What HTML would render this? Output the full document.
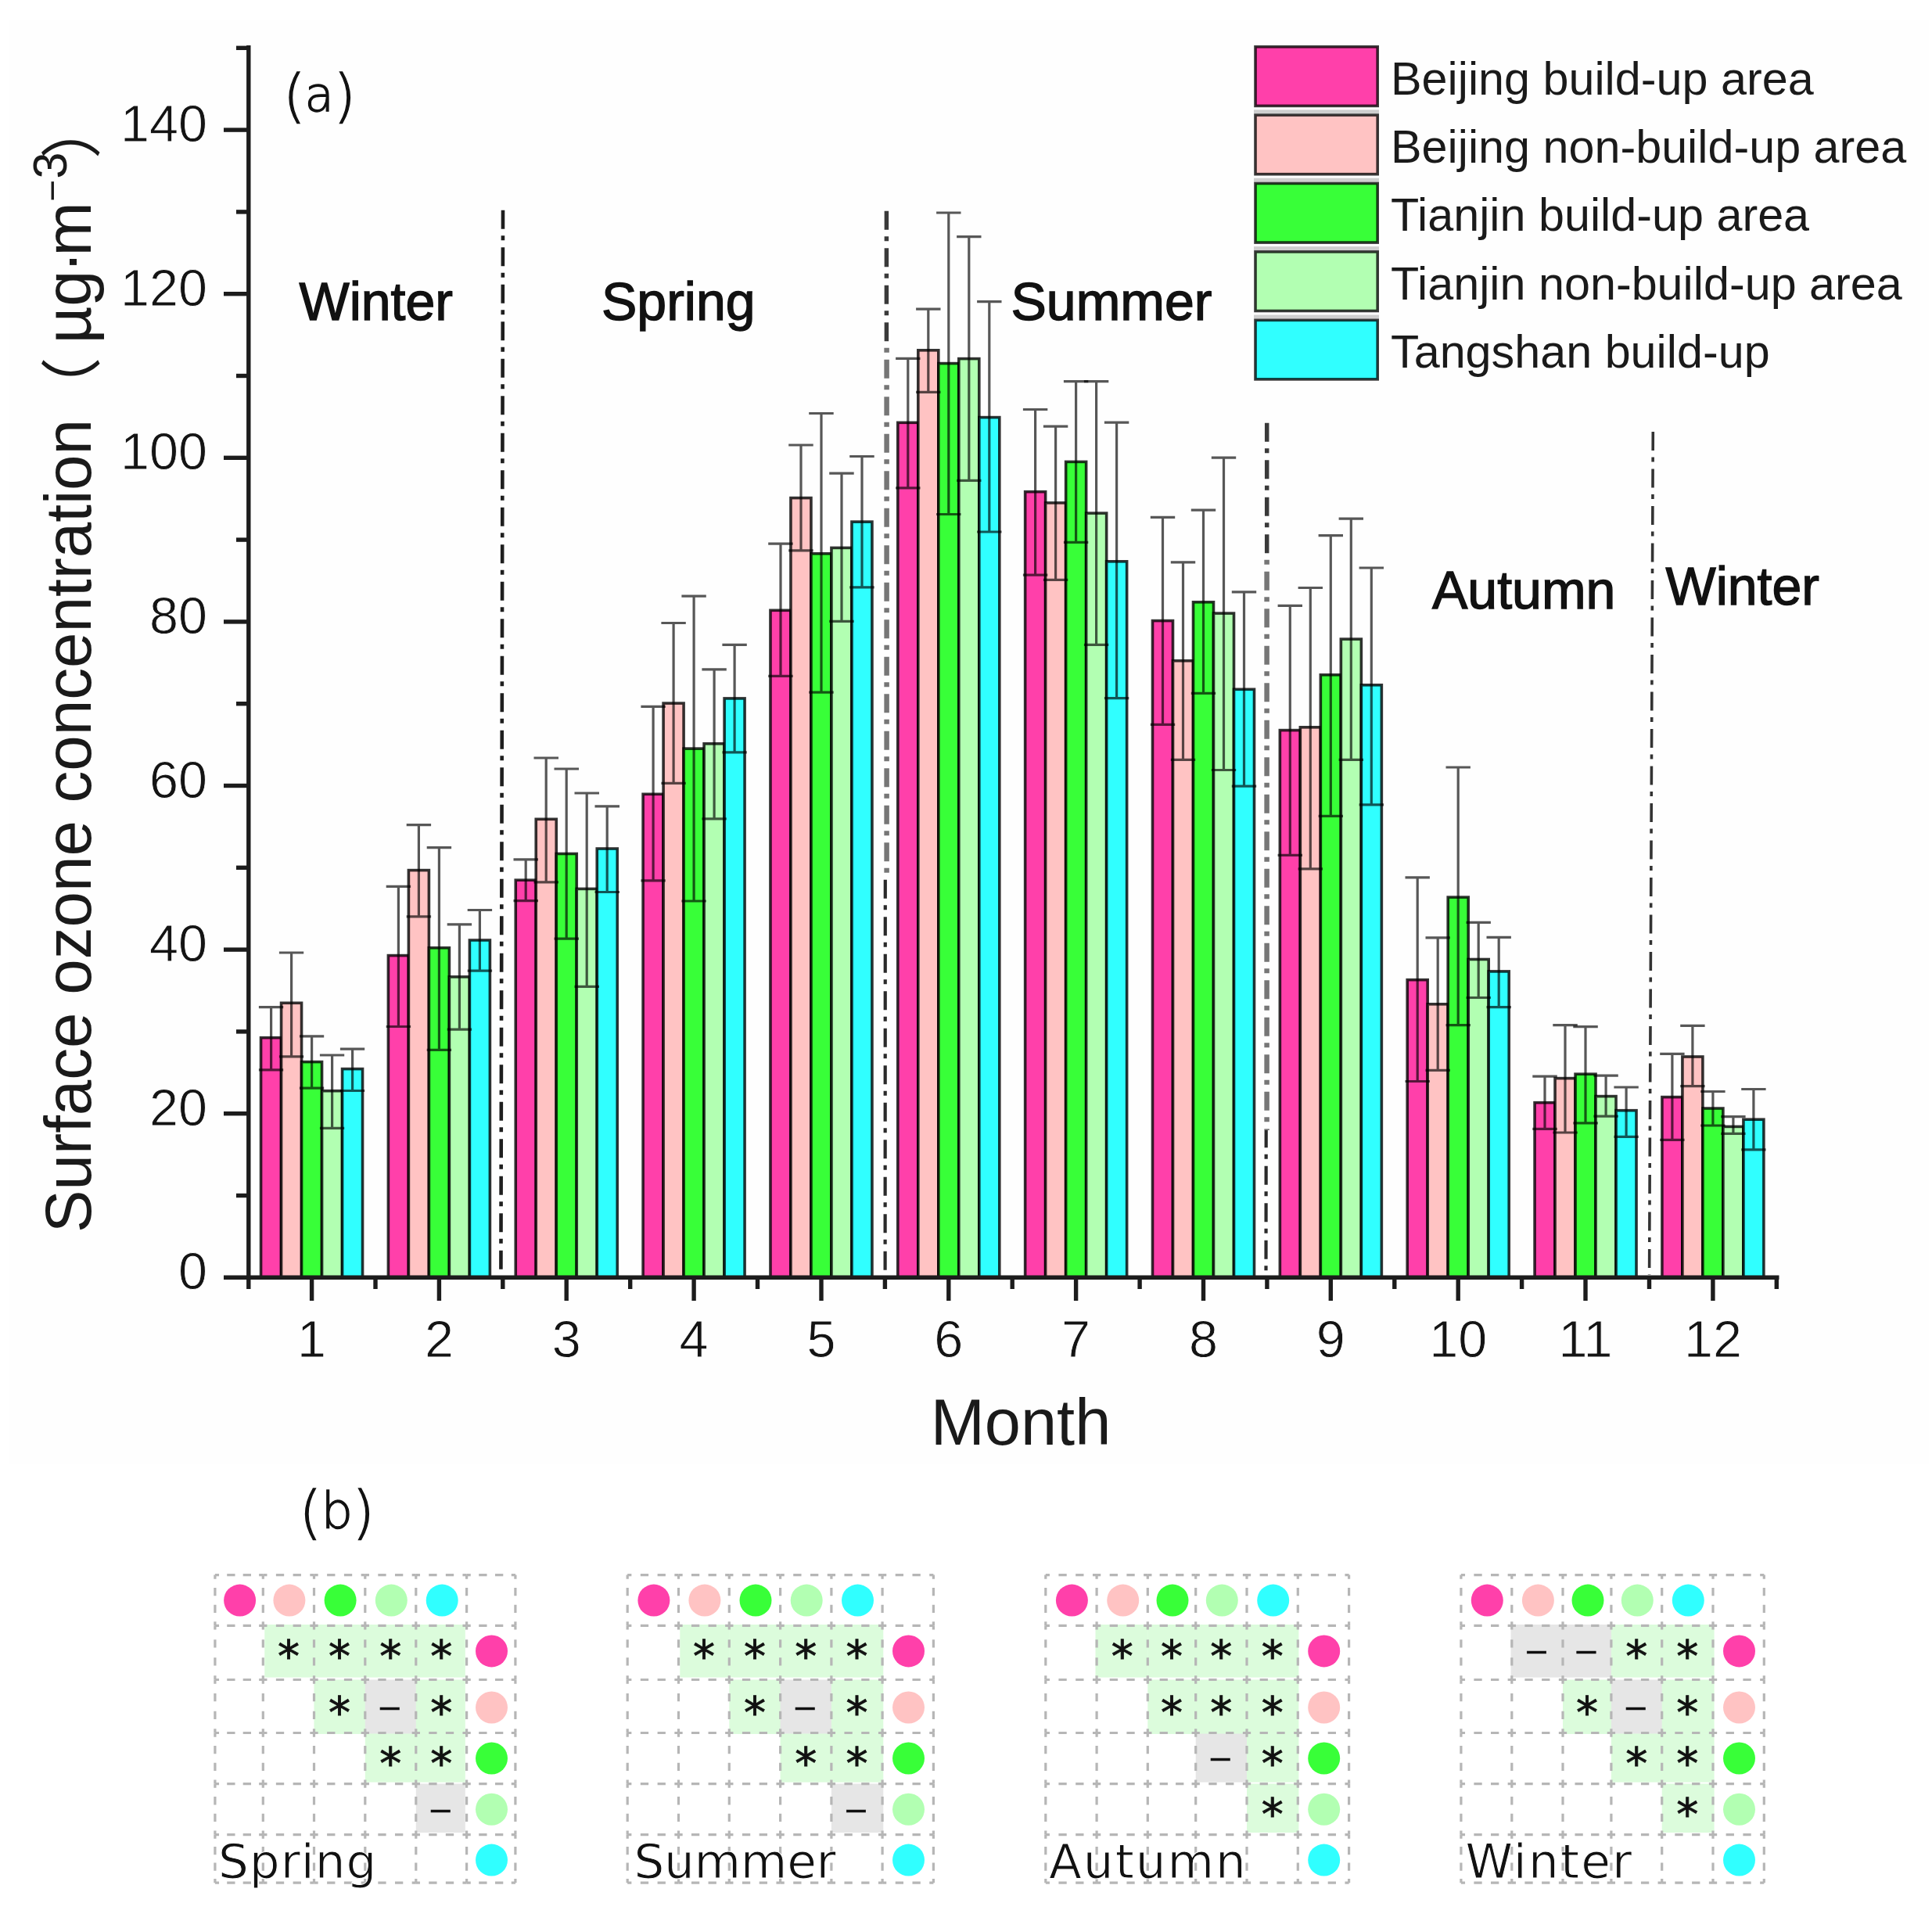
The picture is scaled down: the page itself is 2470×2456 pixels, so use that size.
<!DOCTYPE html>
<html lang="en"><head><meta charset="utf-8"><title>Surface ozone concentration by month</title>
<style>html,body{margin:0;padding:0;background:#fff}svg{display:block;filter:blur(0.7px)}</style></head>
<body>
<svg width="2470" height="2456" viewBox="0 0 2470 2456">
<rect width="2470" height="2456" fill="#ffffff"/>
<rect x="12" y="26" width="2454" height="1846" fill="#fefefe"/>
<line x1="643" y1="268.7" x2="640.4" y2="1630" stroke="#1e1e1e" stroke-width="4.6" stroke-dasharray="24 8.5 6 9" stroke-dashoffset="0"/>
<line x1="1133.4" y1="269.8" x2="1133.4" y2="442" stroke="#3a3a3a" stroke-width="5.5" stroke-dasharray="24 8.5 6 9" stroke-dashoffset="0"/>
<line x1="1133.6" y1="442" x2="1133.6" y2="1120" stroke="#767676" stroke-width="6.5" stroke-dasharray="24 8.5 6 9" stroke-dashoffset="29.69999999999999"/>
<line x1="1131.8" y1="1120" x2="1131.6" y2="1630" stroke="#2a2a2a" stroke-width="4.2" stroke-dasharray="24 8.5 6 9" stroke-dashoffset="42.700000000000045"/>
<line x1="1619.7" y1="540.8" x2="1619.7" y2="711" stroke="#3a3a3a" stroke-width="5.5" stroke-dasharray="24 8.5 6 9" stroke-dashoffset="0"/>
<line x1="1619.6" y1="711" x2="1619.6" y2="1445" stroke="#767676" stroke-width="6.5" stroke-dasharray="24 8.5 6 9" stroke-dashoffset="27.700000000000045"/>
<line x1="1618.7" y1="1445" x2="1618.5" y2="1630" stroke="#2a2a2a" stroke-width="4.2" stroke-dasharray="24 8.5 6 9" stroke-dashoffset="1.7000000000000455"/>
<line x1="2113.3" y1="551.9" x2="2108.6" y2="1630" stroke="#333" stroke-width="3.6" stroke-dasharray="24 8.5 6 9" stroke-dashoffset="0"/>
<g stroke="#000" stroke-opacity="0.8" stroke-width="3.6">
<rect x="333.55" y="1326.7" width="26.0" height="306.6" fill="#FF40AA"/>
<rect x="359.55" y="1282.3" width="26.0" height="351.0" fill="#FFC3C3"/>
<rect x="385.55" y="1357.6" width="26.0" height="275.7" fill="#38FF38"/>
<rect x="411.55" y="1394.7" width="26.0" height="238.6" fill="#B2FFB2"/>
<rect x="437.55" y="1366.6" width="26.0" height="266.7" fill="#30FFFF"/>
<rect x="496.40" y="1221.6" width="26.0" height="411.7" fill="#FF40AA"/>
<rect x="522.40" y="1112.6" width="26.0" height="520.7" fill="#FFC3C3"/>
<rect x="548.40" y="1211.8" width="26.0" height="421.5" fill="#38FF38"/>
<rect x="574.40" y="1248.9" width="26.0" height="384.4" fill="#B2FFB2"/>
<rect x="600.40" y="1202.0" width="26.0" height="431.3" fill="#30FFFF"/>
<rect x="659.25" y="1125.2" width="26.0" height="508.1" fill="#FF40AA"/>
<rect x="685.25" y="1047.3" width="26.0" height="586.0" fill="#FFC3C3"/>
<rect x="711.25" y="1091.5" width="26.0" height="541.8" fill="#38FF38"/>
<rect x="737.25" y="1136.4" width="26.0" height="496.9" fill="#B2FFB2"/>
<rect x="763.25" y="1085.0" width="26.0" height="548.3" fill="#30FFFF"/>
<rect x="822.10" y="1015.3" width="26.0" height="618.0" fill="#FF40AA"/>
<rect x="848.10" y="899.1" width="26.0" height="734.2" fill="#FFC3C3"/>
<rect x="874.10" y="957.1" width="26.0" height="676.2" fill="#38FF38"/>
<rect x="900.10" y="950.8" width="26.0" height="682.5" fill="#B2FFB2"/>
<rect x="926.10" y="892.9" width="26.0" height="740.4" fill="#30FFFF"/>
<rect x="984.95" y="780.3" width="26.0" height="853.0" fill="#FF40AA"/>
<rect x="1010.95" y="636.6" width="26.0" height="996.7" fill="#FFC3C3"/>
<rect x="1036.95" y="707.8" width="26.0" height="925.5" fill="#38FF38"/>
<rect x="1062.95" y="700.4" width="26.0" height="932.9" fill="#B2FFB2"/>
<rect x="1088.95" y="667.1" width="26.0" height="966.2" fill="#30FFFF"/>
<rect x="1147.80" y="540.3" width="26.0" height="1093.0" fill="#FF40AA"/>
<rect x="1173.80" y="447.8" width="26.0" height="1185.5" fill="#FFC3C3"/>
<rect x="1199.80" y="464.6" width="26.0" height="1168.7" fill="#38FF38"/>
<rect x="1225.80" y="458.6" width="26.0" height="1174.7" fill="#B2FFB2"/>
<rect x="1251.80" y="533.6" width="26.0" height="1099.7" fill="#30FFFF"/>
<rect x="1310.65" y="628.7" width="26.0" height="1004.6" fill="#FF40AA"/>
<rect x="1336.65" y="642.9" width="26.0" height="990.4" fill="#FFC3C3"/>
<rect x="1362.65" y="590.4" width="26.0" height="1042.9" fill="#38FF38"/>
<rect x="1388.65" y="656.1" width="26.0" height="977.2" fill="#B2FFB2"/>
<rect x="1414.65" y="717.8" width="26.0" height="915.5" fill="#30FFFF"/>
<rect x="1473.50" y="793.6" width="26.0" height="839.7" fill="#FF40AA"/>
<rect x="1499.50" y="844.8" width="26.0" height="788.5" fill="#FFC3C3"/>
<rect x="1525.50" y="769.8" width="26.0" height="863.5" fill="#38FF38"/>
<rect x="1551.50" y="784.1" width="26.0" height="849.2" fill="#B2FFB2"/>
<rect x="1577.50" y="881.3" width="26.0" height="752.0" fill="#30FFFF"/>
<rect x="1636.35" y="933.6" width="26.0" height="699.7" fill="#FF40AA"/>
<rect x="1662.35" y="929.8" width="26.0" height="703.5" fill="#FFC3C3"/>
<rect x="1688.35" y="862.8" width="26.0" height="770.5" fill="#38FF38"/>
<rect x="1714.35" y="817.1" width="26.0" height="816.2" fill="#B2FFB2"/>
<rect x="1740.35" y="875.8" width="26.0" height="757.5" fill="#30FFFF"/>
<rect x="1799.20" y="1252.7" width="26.0" height="380.6" fill="#FF40AA"/>
<rect x="1825.20" y="1283.8" width="26.0" height="349.5" fill="#FFC3C3"/>
<rect x="1851.20" y="1147.1" width="26.0" height="486.2" fill="#38FF38"/>
<rect x="1877.20" y="1226.5" width="26.0" height="406.8" fill="#B2FFB2"/>
<rect x="1903.20" y="1241.9" width="26.0" height="391.4" fill="#30FFFF"/>
<rect x="1962.05" y="1409.7" width="26.0" height="223.6" fill="#FF40AA"/>
<rect x="1988.05" y="1378.6" width="26.0" height="254.7" fill="#FFC3C3"/>
<rect x="2014.05" y="1373.2" width="26.0" height="260.1" fill="#38FF38"/>
<rect x="2040.05" y="1401.6" width="26.0" height="231.7" fill="#B2FFB2"/>
<rect x="2066.05" y="1419.7" width="26.0" height="213.6" fill="#30FFFF"/>
<rect x="2124.90" y="1402.6" width="26.0" height="230.7" fill="#FF40AA"/>
<rect x="2150.90" y="1351.0" width="26.0" height="282.3" fill="#FFC3C3"/>
<rect x="2176.90" y="1417.0" width="26.0" height="216.3" fill="#38FF38"/>
<rect x="2202.90" y="1440.4" width="26.0" height="192.9" fill="#B2FFB2"/>
<rect x="2228.90" y="1431.2" width="26.0" height="202.1" fill="#30FFFF"/>
</g>
<g stroke="#000" stroke-opacity="0.66" stroke-width="3.2" fill="none">
<path d="M330.9 1287.7H362.2M346.6 1287.7V1367.8M330.9 1367.8H362.2"/>
<path d="M356.9 1218.0H388.2M372.6 1218.0V1350.9M356.9 1350.9H388.2"/>
<path d="M382.9 1324.8H414.2M398.6 1324.8V1391.1M382.9 1391.1H414.2"/>
<path d="M408.9 1349.0H440.2M424.6 1349.0V1442.3M408.9 1442.3H440.2"/>
<path d="M434.9 1341.1H466.2M450.6 1341.1V1394.5M434.9 1394.5H466.2"/>
<path d="M493.7 1133.4H525.1M509.4 1133.4V1312.5M493.7 1312.5H525.1"/>
<path d="M519.7 1054.7H551.1M535.4 1054.7V1171.9M519.7 1171.9H551.1"/>
<path d="M545.7 1083.7H577.1M561.4 1083.7V1342.3M545.7 1342.3H577.1"/>
<path d="M571.7 1181.8H603.1M587.4 1181.8V1316.2M571.7 1316.2H603.1"/>
<path d="M597.7 1163.5H629.1M613.4 1163.5V1241.1M597.7 1241.1H629.1"/>
<path d="M656.5 1098.9H688.0M672.2 1098.9V1151.7M656.5 1151.7H688.0"/>
<path d="M682.5 969.0H714.0M698.2 969.0V1127.8M682.5 1127.8H714.0"/>
<path d="M708.5 983.0H740.0M724.2 983.0V1200.1M708.5 1200.1H740.0"/>
<path d="M734.5 1014.0H766.0M750.2 1014.0V1261.4M734.5 1261.4H766.0"/>
<path d="M760.5 1030.8H792.0M776.2 1030.8V1140.5M760.5 1140.5H792.0"/>
<path d="M819.4 903.4H850.8M835.1 903.4V1125.8M819.4 1125.8H850.8"/>
<path d="M845.4 796.5H876.8M861.1 796.5V1001.4M845.4 1001.4H876.8"/>
<path d="M871.4 762.2H902.8M887.1 762.2V1152.0M871.4 1152.0H902.8"/>
<path d="M897.4 855.9H928.8M913.1 855.9V1046.8M897.4 1046.8H928.8"/>
<path d="M923.4 824.4H954.8M939.1 824.4V961.9M923.4 961.9H954.8"/>
<path d="M982.2 695.2H1013.7M998.0 695.2V864.3M982.2 864.3H1013.7"/>
<path d="M1008.2 569.0H1039.7M1024.0 569.0V703.9M1008.2 703.9H1039.7"/>
<path d="M1034.2 528.5H1065.7M1050.0 528.5V885.1M1034.2 885.1H1065.7"/>
<path d="M1060.2 605.2H1091.7M1076.0 605.2V794.4M1060.2 794.4H1091.7"/>
<path d="M1086.2 583.5H1117.7M1102.0 583.5V750.9M1086.2 750.9H1117.7"/>
<path d="M1145.1 458.4H1176.5M1160.8 458.4V623.8M1145.1 623.8H1176.5"/>
<path d="M1171.1 395.2H1202.5M1186.8 395.2V501.4M1171.1 501.4H1202.5"/>
<path d="M1197.1 272.0H1228.5M1212.8 272.0V657.5M1197.1 657.5H1228.5"/>
<path d="M1223.1 302.7H1254.5M1238.8 302.7V614.3M1223.1 614.3H1254.5"/>
<path d="M1249.1 385.7H1280.5M1264.8 385.7V680.0M1249.1 680.0H1280.5"/>
<path d="M1307.9 523.5H1339.3M1323.6 523.5V735.1M1307.9 735.1H1339.3"/>
<path d="M1333.9 545.2H1365.3M1349.6 545.2V741.4M1333.9 741.4H1365.3"/>
<path d="M1359.9 487.6H1391.3M1375.6 487.6V693.4M1359.9 693.4H1391.3"/>
<path d="M1385.9 487.6H1417.3M1401.6 487.6V824.3M1385.9 824.3H1417.3"/>
<path d="M1411.9 540.2H1443.3M1427.6 540.2V892.6M1411.9 892.6H1443.3"/>
<path d="M1470.8 661.4H1502.2M1486.5 661.4V926.3M1470.8 926.3H1502.2"/>
<path d="M1496.8 718.9H1528.2M1512.5 718.9V971.3M1496.8 971.3H1528.2"/>
<path d="M1522.8 652.2H1554.2M1538.5 652.2V886.3M1522.8 886.3H1554.2"/>
<path d="M1548.8 585.2H1580.2M1564.5 585.2V984.5M1548.8 984.5H1580.2"/>
<path d="M1574.8 756.9H1606.2M1590.5 756.9V1005.1M1574.8 1005.1H1606.2"/>
<path d="M1633.6 774.4H1665.0M1649.3 774.4V1093.3M1633.6 1093.3H1665.0"/>
<path d="M1659.6 751.5H1691.0M1675.3 751.5V1110.8M1659.6 1110.8H1691.0"/>
<path d="M1685.6 684.7H1717.0M1701.3 684.7V1043.3M1685.6 1043.3H1717.0"/>
<path d="M1711.6 663.2H1743.0M1727.3 663.2V971.3M1711.6 971.3H1743.0"/>
<path d="M1737.6 726.0H1769.0M1753.3 726.0V1028.8M1737.6 1028.8H1769.0"/>
<path d="M1796.5 1121.8H1827.9M1812.2 1121.8V1382.5M1796.5 1382.5H1827.9"/>
<path d="M1822.5 1198.9H1853.9M1838.2 1198.9V1368.4M1822.5 1368.4H1853.9"/>
<path d="M1848.5 981.0H1879.9M1864.2 981.0V1310.7M1848.5 1310.7H1879.9"/>
<path d="M1874.5 1179.4H1905.9M1890.2 1179.4V1275.5M1874.5 1275.5H1905.9"/>
<path d="M1900.5 1198.4H1931.9M1916.2 1198.4V1287.7M1900.5 1287.7H1931.9"/>
<path d="M1959.3 1376.2H1990.8M1975.0 1376.2V1443.4M1959.3 1443.4H1990.8"/>
<path d="M1985.3 1310.7H2016.8M2001.0 1310.7V1448.0M1985.3 1448.0H2016.8"/>
<path d="M2011.3 1312.6H2042.8M2027.0 1312.6V1435.8M2011.3 1435.8H2042.8"/>
<path d="M2037.4 1375.1H2068.8M2053.1 1375.1V1427.1M2037.4 1427.1H2068.8"/>
<path d="M2063.4 1390.0H2094.8M2079.1 1390.0V1453.3M2063.4 1453.3H2094.8"/>
<path d="M2122.2 1347.4H2153.6M2137.9 1347.4V1457.3M2122.2 1457.3H2153.6"/>
<path d="M2148.2 1311.4H2179.6M2163.9 1311.4V1388.6M2148.2 1388.6H2179.6"/>
<path d="M2174.2 1395.5H2205.6M2189.9 1395.5V1439.0M2174.2 1439.0H2205.6"/>
<path d="M2200.2 1427.6H2231.6M2215.9 1427.6V1449.3M2200.2 1449.3H2231.6"/>
<path d="M2226.2 1392.5H2257.6M2241.9 1392.5V1469.9M2226.2 1469.9H2257.6"/>
</g>
<g stroke="#1c1c1c" stroke-width="5.4" fill="none">
<path d="M317.8 58V1648"/>
<path d="M286 1633.3H2274.5"/>
<path d="M302 1528.5H318"/>
<path d="M286 1423.7H318"/>
<path d="M302 1318.9H318"/>
<path d="M286 1214.1H318"/>
<path d="M302 1109.3H318"/>
<path d="M286 1004.5H318"/>
<path d="M302 899.7H318"/>
<path d="M286 794.9H318"/>
<path d="M302 690.1H318"/>
<path d="M286 585.3H318"/>
<path d="M302 480.5H318"/>
<path d="M286 375.7H318"/>
<path d="M302 270.9H318"/>
<path d="M286 166.1H318"/>
<path d="M302 61.3H318"/>
<path d="M398.6 1633.3V1663"/>
<path d="M480.0 1633.3V1648"/>
<path d="M561.4 1633.3V1663"/>
<path d="M642.8 1633.3V1648"/>
<path d="M724.2 1633.3V1663"/>
<path d="M805.7 1633.3V1648"/>
<path d="M887.1 1633.3V1663"/>
<path d="M968.5 1633.3V1648"/>
<path d="M1050.0 1633.3V1663"/>
<path d="M1131.4 1633.3V1648"/>
<path d="M1212.8 1633.3V1663"/>
<path d="M1294.2 1633.3V1648"/>
<path d="M1375.6 1633.3V1663"/>
<path d="M1457.1 1633.3V1648"/>
<path d="M1538.5 1633.3V1663"/>
<path d="M1619.9 1633.3V1648"/>
<path d="M1701.3 1633.3V1663"/>
<path d="M1782.8 1633.3V1648"/>
<path d="M1864.2 1633.3V1663"/>
<path d="M1945.6 1633.3V1648"/>
<path d="M2027.0 1633.3V1663"/>
<path d="M2108.5 1633.3V1648"/>
<path d="M2189.9 1633.3V1663"/>
<path d="M2271.3 1633.3V1648"/>
</g>
<g style="font-family:'Liberation Sans',Arial,sans-serif;font-size:66.5px" fill="#141414" stroke="#fff" stroke-width="0.8">
<text x="265" y="1648.3" text-anchor="end">0</text>
<text x="265" y="1438.7" text-anchor="end">20</text>
<text x="265" y="1229.1" text-anchor="end">40</text>
<text x="265" y="1019.5" text-anchor="end">60</text>
<text x="265" y="809.9" text-anchor="end">80</text>
<text x="265" y="600.3" text-anchor="end">100</text>
<text x="265" y="390.7" text-anchor="end">120</text>
<text x="265" y="181.1" text-anchor="end">140</text>
<text x="398.6" y="1734.5" text-anchor="middle">1</text>
<text x="561.4" y="1734.5" text-anchor="middle">2</text>
<text x="724.2" y="1734.5" text-anchor="middle">3</text>
<text x="887.1" y="1734.5" text-anchor="middle">4</text>
<text x="1050.0" y="1734.5" text-anchor="middle">5</text>
<text x="1212.8" y="1734.5" text-anchor="middle">6</text>
<text x="1375.6" y="1734.5" text-anchor="middle">7</text>
<text x="1538.5" y="1734.5" text-anchor="middle">8</text>
<text x="1701.3" y="1734.5" text-anchor="middle">9</text>
<text x="1864.2" y="1734.5" text-anchor="middle">10</text>
<text x="2027.0" y="1734.5" text-anchor="middle">11</text>
<text x="2189.9" y="1734.5" text-anchor="middle">12</text>
</g>
<text x="1305" y="1846.5" text-anchor="middle" style="font-family:'Liberation Sans',Arial,sans-serif;font-size:83px" fill="#1a1a1a">Month</text>
<g transform="translate(115.5 0) rotate(-90)" style="font-family:'Liberation Sans','Noto Sans CJK SC',sans-serif;font-size:83px" fill="#1a1a1a">
<text x="-1576" y="0" textLength="1040" lengthAdjust="spacingAndGlyphs">Surface ozone concentration</text>
<text x="-535" y="4.4" style="font-size:78.3px">（</text>
<text x="-439.5" y="0">µg</text>
<text x="-335" y="0" text-anchor="middle">·</text>
<text x="-327.5" y="0">m</text>
<text x="-258" y="-33" style="font-size:48px">−</text>
<text x="-228.5" y="-30.8" style="font-size:61px">3</text>
<text x="-203" y="4.4" style="font-size:78.3px">）</text>
</g>
<g style="font-family:'Liberation Sans',Arial,sans-serif;font-size:68px" fill="#111" stroke="#111" stroke-width="1.4">
<text x="382.5" y="408.6">Winter</text>
<text x="769" y="408.6">Spring</text>
<text x="1292.5" y="409">Summer</text>
<text x="1831" y="777.6">Autumn</text>
<text x="2129.5" y="772.6">Winter</text>
</g>
<g style="font-family:'DejaVu Sans','Liberation Sans',sans-serif;font-weight:200" fill="#111" stroke="#111" stroke-width="1.3">
<text x="362" y="147.9" style="font-size:73px">(</text>
<text x="389.5" y="142.3" style="font-size:61px">a</text>
<text x="426.5" y="147.9" style="font-size:73px">)</text>
</g>
<g style="font-family:'DejaVu Sans','Liberation Sans',sans-serif;font-weight:200" fill="#111" stroke="#111" stroke-width="1.3">
<text x="382.5" y="1959.1" style="font-size:73px">(</text>
<text x="410.5" y="1953.5" style="font-size:64px">b</text>
<text x="450.5" y="1959.1" style="font-size:73px">)</text>
</g>
<rect x="1605" y="59.8" width="156.2" height="75.6" fill="#FF40AA" stroke="#000" stroke-opacity="0.78" stroke-width="3.6"/>
<text x="1778" y="120.5" style="font-family:'Liberation Sans',Arial,sans-serif;font-size:59.3px" fill="#1a1a1a">Beijing build-up area</text>
<rect x="1603" y="140.3" width="160" height="5" fill="#cfcfcf"/>
<rect x="1605" y="147.1" width="156.2" height="75.6" fill="#FFC3C3" stroke="#000" stroke-opacity="0.78" stroke-width="3.6"/>
<text x="1778" y="207.8" style="font-family:'Liberation Sans',Arial,sans-serif;font-size:59.3px" fill="#1a1a1a">Beijing non-build-up area</text>
<rect x="1603" y="227.7" width="160" height="5" fill="#cfcfcf"/>
<rect x="1605" y="234.5" width="156.2" height="75.6" fill="#38FF38" stroke="#000" stroke-opacity="0.78" stroke-width="3.6"/>
<text x="1778" y="295.2" style="font-family:'Liberation Sans',Arial,sans-serif;font-size:59.3px" fill="#1a1a1a">Tianjin build-up area</text>
<rect x="1603" y="315.1" width="160" height="5" fill="#cfcfcf"/>
<rect x="1605" y="321.9" width="156.2" height="75.6" fill="#B2FFB2" stroke="#000" stroke-opacity="0.78" stroke-width="3.6"/>
<text x="1778" y="382.6" style="font-family:'Liberation Sans',Arial,sans-serif;font-size:59.3px" fill="#1a1a1a">Tianjin non-build-up area</text>
<rect x="1603" y="402.5" width="160" height="5" fill="#cfcfcf"/>
<rect x="1605" y="409.3" width="156.2" height="75.6" fill="#30FFFF" stroke="#000" stroke-opacity="0.78" stroke-width="3.6"/>
<text x="1778" y="470.0" style="font-family:'Liberation Sans',Arial,sans-serif;font-size:59.3px" fill="#1a1a1a">Tangshan build-up</text>
<rect x="338.3" y="2077.0" width="63.6" height="67.6" fill="#DCFCDC"/>
<rect x="401.5" y="2077.0" width="65.7" height="67.6" fill="#DCFCDC"/>
<rect x="466.8" y="2077.0" width="65.4" height="67.6" fill="#DCFCDC"/>
<rect x="531.8" y="2077.0" width="63.0" height="67.6" fill="#DCFCDC"/>
<rect x="401.5" y="2147.5" width="65.7" height="69.4" fill="#DCFCDC"/>
<rect x="466.8" y="2147.5" width="65.4" height="69.4" fill="#E6E6E6"/>
<rect x="531.8" y="2147.5" width="63.0" height="69.4" fill="#DCFCDC"/>
<rect x="466.8" y="2216.5" width="65.4" height="62.1" fill="#DCFCDC"/>
<rect x="531.8" y="2216.5" width="63.0" height="62.1" fill="#DCFCDC"/>
<rect x="531.8" y="2280.5" width="63.0" height="62.5" fill="#E6E6E6"/>
<g stroke="#B6B6B6" stroke-width="3.2" fill="none">
<path d="M274.9 2013.6H336.3" stroke-dasharray="10.3 10.17" stroke-dashoffset="5.15"/>
<path d="M336.3 2013.6H401.5" stroke-dasharray="10.3 11.43" stroke-dashoffset="5.15"/>
<path d="M401.5 2013.6H466.8" stroke-dasharray="10.3 11.47" stroke-dashoffset="5.15"/>
<path d="M466.8 2013.6H531.8" stroke-dasharray="10.3 11.37" stroke-dashoffset="5.15"/>
<path d="M531.8 2013.6H596.6" stroke-dasharray="10.3 11.30" stroke-dashoffset="5.15"/>
<path d="M596.6 2013.6H658.9" stroke-dasharray="10.3 10.47" stroke-dashoffset="5.15"/>
<path d="M274.9 2078.4H336.3" stroke-dasharray="10.3 10.17" stroke-dashoffset="5.15"/>
<path d="M336.3 2078.4H401.5" stroke-dasharray="10.3 11.43" stroke-dashoffset="5.15"/>
<path d="M401.5 2078.4H466.8" stroke-dasharray="10.3 11.47" stroke-dashoffset="5.15"/>
<path d="M466.8 2078.4H531.8" stroke-dasharray="10.3 11.37" stroke-dashoffset="5.15"/>
<path d="M531.8 2078.4H596.6" stroke-dasharray="10.3 11.30" stroke-dashoffset="5.15"/>
<path d="M596.6 2078.4H658.9" stroke-dasharray="10.3 10.47" stroke-dashoffset="5.15"/>
<path d="M274.9 2147.5H336.3" stroke-dasharray="10.3 10.17" stroke-dashoffset="5.15"/>
<path d="M336.3 2147.5H401.5" stroke-dasharray="10.3 11.43" stroke-dashoffset="5.15"/>
<path d="M401.5 2147.5H466.8" stroke-dasharray="10.3 11.47" stroke-dashoffset="5.15"/>
<path d="M466.8 2147.5H531.8" stroke-dasharray="10.3 11.37" stroke-dashoffset="5.15"/>
<path d="M531.8 2147.5H596.6" stroke-dasharray="10.3 11.30" stroke-dashoffset="5.15"/>
<path d="M596.6 2147.5H658.9" stroke-dasharray="10.3 10.47" stroke-dashoffset="5.15"/>
<path d="M274.9 2215.5H336.3" stroke-dasharray="10.3 10.17" stroke-dashoffset="5.15"/>
<path d="M336.3 2215.5H401.5" stroke-dasharray="10.3 11.43" stroke-dashoffset="5.15"/>
<path d="M401.5 2215.5H466.8" stroke-dasharray="10.3 11.47" stroke-dashoffset="5.15"/>
<path d="M466.8 2215.5H531.8" stroke-dasharray="10.3 11.37" stroke-dashoffset="5.15"/>
<path d="M531.8 2215.5H596.6" stroke-dasharray="10.3 11.30" stroke-dashoffset="5.15"/>
<path d="M596.6 2215.5H658.9" stroke-dasharray="10.3 10.47" stroke-dashoffset="5.15"/>
<path d="M274.9 2280.6H336.3" stroke-dasharray="10.3 10.17" stroke-dashoffset="5.15"/>
<path d="M336.3 2280.6H401.5" stroke-dasharray="10.3 11.43" stroke-dashoffset="5.15"/>
<path d="M401.5 2280.6H466.8" stroke-dasharray="10.3 11.47" stroke-dashoffset="5.15"/>
<path d="M466.8 2280.6H531.8" stroke-dasharray="10.3 11.37" stroke-dashoffset="5.15"/>
<path d="M531.8 2280.6H596.6" stroke-dasharray="10.3 11.30" stroke-dashoffset="5.15"/>
<path d="M596.6 2280.6H658.9" stroke-dasharray="10.3 10.47" stroke-dashoffset="5.15"/>
<path d="M274.9 2345.6H336.3" stroke-dasharray="10.3 10.17" stroke-dashoffset="5.15"/>
<path d="M336.3 2345.6H401.5" stroke-dasharray="10.3 11.43" stroke-dashoffset="5.15"/>
<path d="M401.5 2345.6H466.8" stroke-dasharray="10.3 11.47" stroke-dashoffset="5.15"/>
<path d="M466.8 2345.6H531.8" stroke-dasharray="10.3 11.37" stroke-dashoffset="5.15"/>
<path d="M531.8 2345.6H596.6" stroke-dasharray="10.3 11.30" stroke-dashoffset="5.15"/>
<path d="M596.6 2345.6H658.9" stroke-dasharray="10.3 10.47" stroke-dashoffset="5.15"/>
<path d="M274.9 2407.2H336.3" stroke-dasharray="10.3 10.17" stroke-dashoffset="5.15"/>
<path d="M336.3 2407.2H401.5" stroke-dasharray="10.3 11.43" stroke-dashoffset="5.15"/>
<path d="M401.5 2407.2H466.8" stroke-dasharray="10.3 11.47" stroke-dashoffset="5.15"/>
<path d="M466.8 2407.2H531.8" stroke-dasharray="10.3 11.37" stroke-dashoffset="5.15"/>
<path d="M531.8 2407.2H596.6" stroke-dasharray="10.3 11.30" stroke-dashoffset="5.15"/>
<path d="M596.6 2407.2H658.9" stroke-dasharray="10.3 10.47" stroke-dashoffset="5.15"/>
<path d="M274.9 2013.6V2078.4" stroke-dasharray="10.3 11.30" stroke-dashoffset="5.15"/>
<path d="M274.9 2078.4V2147.5" stroke-dasharray="10.3 12.73" stroke-dashoffset="5.15"/>
<path d="M274.9 2147.5V2215.5" stroke-dasharray="10.3 12.37" stroke-dashoffset="5.15"/>
<path d="M274.9 2215.5V2280.6" stroke-dasharray="10.3 11.40" stroke-dashoffset="5.15"/>
<path d="M274.9 2280.6V2345.6" stroke-dasharray="10.3 11.37" stroke-dashoffset="5.15"/>
<path d="M274.9 2345.6V2407.2" stroke-dasharray="10.3 10.23" stroke-dashoffset="5.15"/>
<path d="M336.3 2013.6V2078.4" stroke-dasharray="10.3 11.30" stroke-dashoffset="5.15"/>
<path d="M336.3 2078.4V2147.5" stroke-dasharray="10.3 12.73" stroke-dashoffset="5.15"/>
<path d="M336.3 2147.5V2215.5" stroke-dasharray="10.3 12.37" stroke-dashoffset="5.15"/>
<path d="M336.3 2215.5V2280.6" stroke-dasharray="10.3 11.40" stroke-dashoffset="5.15"/>
<path d="M336.3 2280.6V2345.6" stroke-dasharray="10.3 11.37" stroke-dashoffset="5.15"/>
<path d="M336.3 2345.6V2407.2" stroke-dasharray="10.3 10.23" stroke-dashoffset="5.15"/>
<path d="M401.5 2013.6V2078.4" stroke-dasharray="10.3 11.30" stroke-dashoffset="5.15"/>
<path d="M401.5 2078.4V2147.5" stroke-dasharray="10.3 12.73" stroke-dashoffset="5.15"/>
<path d="M401.5 2147.5V2215.5" stroke-dasharray="10.3 12.37" stroke-dashoffset="5.15"/>
<path d="M401.5 2215.5V2280.6" stroke-dasharray="10.3 11.40" stroke-dashoffset="5.15"/>
<path d="M401.5 2280.6V2345.6" stroke-dasharray="10.3 11.37" stroke-dashoffset="5.15"/>
<path d="M401.5 2345.6V2407.2" stroke-dasharray="10.3 10.23" stroke-dashoffset="5.15"/>
<path d="M466.8 2013.6V2078.4" stroke-dasharray="10.3 11.30" stroke-dashoffset="5.15"/>
<path d="M466.8 2078.4V2147.5" stroke-dasharray="10.3 12.73" stroke-dashoffset="5.15"/>
<path d="M466.8 2147.5V2215.5" stroke-dasharray="10.3 12.37" stroke-dashoffset="5.15"/>
<path d="M466.8 2215.5V2280.6" stroke-dasharray="10.3 11.40" stroke-dashoffset="5.15"/>
<path d="M466.8 2280.6V2345.6" stroke-dasharray="10.3 11.37" stroke-dashoffset="5.15"/>
<path d="M466.8 2345.6V2407.2" stroke-dasharray="10.3 10.23" stroke-dashoffset="5.15"/>
<path d="M531.8 2013.6V2078.4" stroke-dasharray="10.3 11.30" stroke-dashoffset="5.15"/>
<path d="M531.8 2078.4V2147.5" stroke-dasharray="10.3 12.73" stroke-dashoffset="5.15"/>
<path d="M531.8 2147.5V2215.5" stroke-dasharray="10.3 12.37" stroke-dashoffset="5.15"/>
<path d="M531.8 2215.5V2280.6" stroke-dasharray="10.3 11.40" stroke-dashoffset="5.15"/>
<path d="M531.8 2280.6V2345.6" stroke-dasharray="10.3 11.37" stroke-dashoffset="5.15"/>
<path d="M531.8 2345.6V2407.2" stroke-dasharray="10.3 10.23" stroke-dashoffset="5.15"/>
<path d="M596.6 2013.6V2078.4" stroke-dasharray="10.3 11.30" stroke-dashoffset="5.15"/>
<path d="M596.6 2078.4V2147.5" stroke-dasharray="10.3 12.73" stroke-dashoffset="5.15"/>
<path d="M596.6 2147.5V2215.5" stroke-dasharray="10.3 12.37" stroke-dashoffset="5.15"/>
<path d="M596.6 2215.5V2280.6" stroke-dasharray="10.3 11.40" stroke-dashoffset="5.15"/>
<path d="M596.6 2280.6V2345.6" stroke-dasharray="10.3 11.37" stroke-dashoffset="5.15"/>
<path d="M596.6 2345.6V2407.2" stroke-dasharray="10.3 10.23" stroke-dashoffset="5.15"/>
<path d="M658.9 2013.6V2078.4" stroke-dasharray="10.3 11.30" stroke-dashoffset="5.15"/>
<path d="M658.9 2078.4V2147.5" stroke-dasharray="10.3 12.73" stroke-dashoffset="5.15"/>
<path d="M658.9 2147.5V2215.5" stroke-dasharray="10.3 12.37" stroke-dashoffset="5.15"/>
<path d="M658.9 2215.5V2280.6" stroke-dasharray="10.3 11.40" stroke-dashoffset="5.15"/>
<path d="M658.9 2280.6V2345.6" stroke-dasharray="10.3 11.37" stroke-dashoffset="5.15"/>
<path d="M658.9 2345.6V2407.2" stroke-dasharray="10.3 10.23" stroke-dashoffset="5.15"/>
</g>
<circle cx="306.6" cy="2046.1" r="20.5" fill="#FF40AA"/>
<circle cx="628.5" cy="2110.9" r="20.5" fill="#FF40AA"/>
<circle cx="369.9" cy="2046.1" r="20.5" fill="#FFC3C3"/>
<circle cx="628.5" cy="2183.0" r="20.5" fill="#FFC3C3"/>
<circle cx="435.1" cy="2046.1" r="20.5" fill="#38FF38"/>
<circle cx="628.5" cy="2248.0" r="20.5" fill="#38FF38"/>
<circle cx="500.3" cy="2046.1" r="20.5" fill="#B2FFB2"/>
<circle cx="628.5" cy="2313.3" r="20.5" fill="#B2FFB2"/>
<circle cx="565.2" cy="2046.1" r="20.5" fill="#30FFFF"/>
<circle cx="628.5" cy="2378.1" r="20.5" fill="#30FFFF"/>
<text x="368.9" y="2136.7" text-anchor="middle" style="font-family:'DejaVu Sans','Liberation Sans',sans-serif;font-size:56px" fill="#111" stroke="#111" stroke-width="0.9">*</text>
<text x="434.1" y="2136.7" text-anchor="middle" style="font-family:'DejaVu Sans','Liberation Sans',sans-serif;font-size:56px" fill="#111" stroke="#111" stroke-width="0.9">*</text>
<text x="499.3" y="2136.7" text-anchor="middle" style="font-family:'DejaVu Sans','Liberation Sans',sans-serif;font-size:56px" fill="#111" stroke="#111" stroke-width="0.9">*</text>
<text x="564.2" y="2136.7" text-anchor="middle" style="font-family:'DejaVu Sans','Liberation Sans',sans-serif;font-size:56px" fill="#111" stroke="#111" stroke-width="0.9">*</text>
<text x="434.1" y="2208.8" text-anchor="middle" style="font-family:'DejaVu Sans','Liberation Sans',sans-serif;font-size:56px" fill="#111" stroke="#111" stroke-width="0.9">*</text>
<text x="498.3" y="2196.3" text-anchor="middle" style="font-family:'Liberation Sans',Arial,sans-serif;font-size:44px" fill="#111" stroke="#111" stroke-width="0.6">–</text>
<text x="564.2" y="2208.8" text-anchor="middle" style="font-family:'DejaVu Sans','Liberation Sans',sans-serif;font-size:56px" fill="#111" stroke="#111" stroke-width="0.9">*</text>
<text x="499.3" y="2273.8" text-anchor="middle" style="font-family:'DejaVu Sans','Liberation Sans',sans-serif;font-size:56px" fill="#111" stroke="#111" stroke-width="0.9">*</text>
<text x="564.2" y="2273.8" text-anchor="middle" style="font-family:'DejaVu Sans','Liberation Sans',sans-serif;font-size:56px" fill="#111" stroke="#111" stroke-width="0.9">*</text>
<text x="563.2" y="2326.6" text-anchor="middle" style="font-family:'Liberation Sans',Arial,sans-serif;font-size:44px" fill="#111" stroke="#111" stroke-width="0.6">–</text>
<text x="279" y="2401" style="font-family:'DejaVu Sans','Liberation Sans',sans-serif;font-size:61.2px;letter-spacing:1.0px" fill="#111" stroke="#fff" stroke-width="1">Spring</text>
<rect x="869.3" y="2077.0" width="63.4" height="67.6" fill="#DCFCDC"/>
<rect x="932.3" y="2077.0" width="65.7" height="67.6" fill="#DCFCDC"/>
<rect x="997.6" y="2077.0" width="65.7" height="67.6" fill="#DCFCDC"/>
<rect x="1062.9" y="2077.0" width="66.4" height="67.6" fill="#DCFCDC"/>
<rect x="932.3" y="2147.5" width="65.7" height="69.4" fill="#DCFCDC"/>
<rect x="997.6" y="2147.5" width="65.7" height="69.4" fill="#E6E6E6"/>
<rect x="1062.9" y="2147.5" width="66.4" height="69.4" fill="#DCFCDC"/>
<rect x="997.6" y="2216.5" width="65.7" height="62.1" fill="#DCFCDC"/>
<rect x="1062.9" y="2216.5" width="66.4" height="62.1" fill="#DCFCDC"/>
<rect x="1062.9" y="2280.5" width="66.4" height="62.5" fill="#E6E6E6"/>
<g stroke="#B6B6B6" stroke-width="3.2" fill="none">
<path d="M802.2 2013.6H867.5" stroke-dasharray="10.3 11.47" stroke-dashoffset="5.15"/>
<path d="M867.5 2013.6H932.3" stroke-dasharray="10.3 11.30" stroke-dashoffset="5.15"/>
<path d="M932.3 2013.6H997.6" stroke-dasharray="10.3 11.47" stroke-dashoffset="5.15"/>
<path d="M997.6 2013.6H1062.9" stroke-dasharray="10.3 11.47" stroke-dashoffset="5.15"/>
<path d="M1062.9 2013.6H1128.1" stroke-dasharray="10.3 11.43" stroke-dashoffset="5.15"/>
<path d="M1128.1 2013.6H1193.4" stroke-dasharray="10.3 11.47" stroke-dashoffset="5.15"/>
<path d="M802.2 2078.4H867.5" stroke-dasharray="10.3 11.47" stroke-dashoffset="5.15"/>
<path d="M867.5 2078.4H932.3" stroke-dasharray="10.3 11.30" stroke-dashoffset="5.15"/>
<path d="M932.3 2078.4H997.6" stroke-dasharray="10.3 11.47" stroke-dashoffset="5.15"/>
<path d="M997.6 2078.4H1062.9" stroke-dasharray="10.3 11.47" stroke-dashoffset="5.15"/>
<path d="M1062.9 2078.4H1128.1" stroke-dasharray="10.3 11.43" stroke-dashoffset="5.15"/>
<path d="M1128.1 2078.4H1193.4" stroke-dasharray="10.3 11.47" stroke-dashoffset="5.15"/>
<path d="M802.2 2147.5H867.5" stroke-dasharray="10.3 11.47" stroke-dashoffset="5.15"/>
<path d="M867.5 2147.5H932.3" stroke-dasharray="10.3 11.30" stroke-dashoffset="5.15"/>
<path d="M932.3 2147.5H997.6" stroke-dasharray="10.3 11.47" stroke-dashoffset="5.15"/>
<path d="M997.6 2147.5H1062.9" stroke-dasharray="10.3 11.47" stroke-dashoffset="5.15"/>
<path d="M1062.9 2147.5H1128.1" stroke-dasharray="10.3 11.43" stroke-dashoffset="5.15"/>
<path d="M1128.1 2147.5H1193.4" stroke-dasharray="10.3 11.47" stroke-dashoffset="5.15"/>
<path d="M802.2 2215.5H867.5" stroke-dasharray="10.3 11.47" stroke-dashoffset="5.15"/>
<path d="M867.5 2215.5H932.3" stroke-dasharray="10.3 11.30" stroke-dashoffset="5.15"/>
<path d="M932.3 2215.5H997.6" stroke-dasharray="10.3 11.47" stroke-dashoffset="5.15"/>
<path d="M997.6 2215.5H1062.9" stroke-dasharray="10.3 11.47" stroke-dashoffset="5.15"/>
<path d="M1062.9 2215.5H1128.1" stroke-dasharray="10.3 11.43" stroke-dashoffset="5.15"/>
<path d="M1128.1 2215.5H1193.4" stroke-dasharray="10.3 11.47" stroke-dashoffset="5.15"/>
<path d="M802.2 2280.6H867.5" stroke-dasharray="10.3 11.47" stroke-dashoffset="5.15"/>
<path d="M867.5 2280.6H932.3" stroke-dasharray="10.3 11.30" stroke-dashoffset="5.15"/>
<path d="M932.3 2280.6H997.6" stroke-dasharray="10.3 11.47" stroke-dashoffset="5.15"/>
<path d="M997.6 2280.6H1062.9" stroke-dasharray="10.3 11.47" stroke-dashoffset="5.15"/>
<path d="M1062.9 2280.6H1128.1" stroke-dasharray="10.3 11.43" stroke-dashoffset="5.15"/>
<path d="M1128.1 2280.6H1193.4" stroke-dasharray="10.3 11.47" stroke-dashoffset="5.15"/>
<path d="M802.2 2345.6H867.5" stroke-dasharray="10.3 11.47" stroke-dashoffset="5.15"/>
<path d="M867.5 2345.6H932.3" stroke-dasharray="10.3 11.30" stroke-dashoffset="5.15"/>
<path d="M932.3 2345.6H997.6" stroke-dasharray="10.3 11.47" stroke-dashoffset="5.15"/>
<path d="M997.6 2345.6H1062.9" stroke-dasharray="10.3 11.47" stroke-dashoffset="5.15"/>
<path d="M1062.9 2345.6H1128.1" stroke-dasharray="10.3 11.43" stroke-dashoffset="5.15"/>
<path d="M1128.1 2345.6H1193.4" stroke-dasharray="10.3 11.47" stroke-dashoffset="5.15"/>
<path d="M802.2 2407.2H867.5" stroke-dasharray="10.3 11.47" stroke-dashoffset="5.15"/>
<path d="M867.5 2407.2H932.3" stroke-dasharray="10.3 11.30" stroke-dashoffset="5.15"/>
<path d="M932.3 2407.2H997.6" stroke-dasharray="10.3 11.47" stroke-dashoffset="5.15"/>
<path d="M997.6 2407.2H1062.9" stroke-dasharray="10.3 11.47" stroke-dashoffset="5.15"/>
<path d="M1062.9 2407.2H1128.1" stroke-dasharray="10.3 11.43" stroke-dashoffset="5.15"/>
<path d="M1128.1 2407.2H1193.4" stroke-dasharray="10.3 11.47" stroke-dashoffset="5.15"/>
<path d="M802.2 2013.6V2078.4" stroke-dasharray="10.3 11.30" stroke-dashoffset="5.15"/>
<path d="M802.2 2078.4V2147.5" stroke-dasharray="10.3 12.73" stroke-dashoffset="5.15"/>
<path d="M802.2 2147.5V2215.5" stroke-dasharray="10.3 12.37" stroke-dashoffset="5.15"/>
<path d="M802.2 2215.5V2280.6" stroke-dasharray="10.3 11.40" stroke-dashoffset="5.15"/>
<path d="M802.2 2280.6V2345.6" stroke-dasharray="10.3 11.37" stroke-dashoffset="5.15"/>
<path d="M802.2 2345.6V2407.2" stroke-dasharray="10.3 10.23" stroke-dashoffset="5.15"/>
<path d="M867.5 2013.6V2078.4" stroke-dasharray="10.3 11.30" stroke-dashoffset="5.15"/>
<path d="M867.5 2078.4V2147.5" stroke-dasharray="10.3 12.73" stroke-dashoffset="5.15"/>
<path d="M867.5 2147.5V2215.5" stroke-dasharray="10.3 12.37" stroke-dashoffset="5.15"/>
<path d="M867.5 2215.5V2280.6" stroke-dasharray="10.3 11.40" stroke-dashoffset="5.15"/>
<path d="M867.5 2280.6V2345.6" stroke-dasharray="10.3 11.37" stroke-dashoffset="5.15"/>
<path d="M867.5 2345.6V2407.2" stroke-dasharray="10.3 10.23" stroke-dashoffset="5.15"/>
<path d="M932.3 2013.6V2078.4" stroke-dasharray="10.3 11.30" stroke-dashoffset="5.15"/>
<path d="M932.3 2078.4V2147.5" stroke-dasharray="10.3 12.73" stroke-dashoffset="5.15"/>
<path d="M932.3 2147.5V2215.5" stroke-dasharray="10.3 12.37" stroke-dashoffset="5.15"/>
<path d="M932.3 2215.5V2280.6" stroke-dasharray="10.3 11.40" stroke-dashoffset="5.15"/>
<path d="M932.3 2280.6V2345.6" stroke-dasharray="10.3 11.37" stroke-dashoffset="5.15"/>
<path d="M932.3 2345.6V2407.2" stroke-dasharray="10.3 10.23" stroke-dashoffset="5.15"/>
<path d="M997.6 2013.6V2078.4" stroke-dasharray="10.3 11.30" stroke-dashoffset="5.15"/>
<path d="M997.6 2078.4V2147.5" stroke-dasharray="10.3 12.73" stroke-dashoffset="5.15"/>
<path d="M997.6 2147.5V2215.5" stroke-dasharray="10.3 12.37" stroke-dashoffset="5.15"/>
<path d="M997.6 2215.5V2280.6" stroke-dasharray="10.3 11.40" stroke-dashoffset="5.15"/>
<path d="M997.6 2280.6V2345.6" stroke-dasharray="10.3 11.37" stroke-dashoffset="5.15"/>
<path d="M997.6 2345.6V2407.2" stroke-dasharray="10.3 10.23" stroke-dashoffset="5.15"/>
<path d="M1062.9 2013.6V2078.4" stroke-dasharray="10.3 11.30" stroke-dashoffset="5.15"/>
<path d="M1062.9 2078.4V2147.5" stroke-dasharray="10.3 12.73" stroke-dashoffset="5.15"/>
<path d="M1062.9 2147.5V2215.5" stroke-dasharray="10.3 12.37" stroke-dashoffset="5.15"/>
<path d="M1062.9 2215.5V2280.6" stroke-dasharray="10.3 11.40" stroke-dashoffset="5.15"/>
<path d="M1062.9 2280.6V2345.6" stroke-dasharray="10.3 11.37" stroke-dashoffset="5.15"/>
<path d="M1062.9 2345.6V2407.2" stroke-dasharray="10.3 10.23" stroke-dashoffset="5.15"/>
<path d="M1128.1 2013.6V2078.4" stroke-dasharray="10.3 11.30" stroke-dashoffset="5.15"/>
<path d="M1128.1 2078.4V2147.5" stroke-dasharray="10.3 12.73" stroke-dashoffset="5.15"/>
<path d="M1128.1 2147.5V2215.5" stroke-dasharray="10.3 12.37" stroke-dashoffset="5.15"/>
<path d="M1128.1 2215.5V2280.6" stroke-dasharray="10.3 11.40" stroke-dashoffset="5.15"/>
<path d="M1128.1 2280.6V2345.6" stroke-dasharray="10.3 11.37" stroke-dashoffset="5.15"/>
<path d="M1128.1 2345.6V2407.2" stroke-dasharray="10.3 10.23" stroke-dashoffset="5.15"/>
<path d="M1193.4 2013.6V2078.4" stroke-dasharray="10.3 11.30" stroke-dashoffset="5.15"/>
<path d="M1193.4 2078.4V2147.5" stroke-dasharray="10.3 12.73" stroke-dashoffset="5.15"/>
<path d="M1193.4 2147.5V2215.5" stroke-dasharray="10.3 12.37" stroke-dashoffset="5.15"/>
<path d="M1193.4 2215.5V2280.6" stroke-dasharray="10.3 11.40" stroke-dashoffset="5.15"/>
<path d="M1193.4 2280.6V2345.6" stroke-dasharray="10.3 11.37" stroke-dashoffset="5.15"/>
<path d="M1193.4 2345.6V2407.2" stroke-dasharray="10.3 10.23" stroke-dashoffset="5.15"/>
</g>
<circle cx="835.9" cy="2046.1" r="20.5" fill="#FF40AA"/>
<circle cx="1161.5" cy="2110.9" r="20.5" fill="#FF40AA"/>
<circle cx="900.9" cy="2046.1" r="20.5" fill="#FFC3C3"/>
<circle cx="1161.5" cy="2183.0" r="20.5" fill="#FFC3C3"/>
<circle cx="966.0" cy="2046.1" r="20.5" fill="#38FF38"/>
<circle cx="1161.5" cy="2248.0" r="20.5" fill="#38FF38"/>
<circle cx="1031.2" cy="2046.1" r="20.5" fill="#B2FFB2"/>
<circle cx="1161.5" cy="2313.3" r="20.5" fill="#B2FFB2"/>
<circle cx="1096.5" cy="2046.1" r="20.5" fill="#30FFFF"/>
<circle cx="1161.5" cy="2378.1" r="20.5" fill="#30FFFF"/>
<text x="899.9" y="2136.7" text-anchor="middle" style="font-family:'DejaVu Sans','Liberation Sans',sans-serif;font-size:56px" fill="#111" stroke="#111" stroke-width="0.9">*</text>
<text x="965.0" y="2136.7" text-anchor="middle" style="font-family:'DejaVu Sans','Liberation Sans',sans-serif;font-size:56px" fill="#111" stroke="#111" stroke-width="0.9">*</text>
<text x="1030.2" y="2136.7" text-anchor="middle" style="font-family:'DejaVu Sans','Liberation Sans',sans-serif;font-size:56px" fill="#111" stroke="#111" stroke-width="0.9">*</text>
<text x="1095.5" y="2136.7" text-anchor="middle" style="font-family:'DejaVu Sans','Liberation Sans',sans-serif;font-size:56px" fill="#111" stroke="#111" stroke-width="0.9">*</text>
<text x="965.0" y="2208.8" text-anchor="middle" style="font-family:'DejaVu Sans','Liberation Sans',sans-serif;font-size:56px" fill="#111" stroke="#111" stroke-width="0.9">*</text>
<text x="1029.2" y="2196.3" text-anchor="middle" style="font-family:'Liberation Sans',Arial,sans-serif;font-size:44px" fill="#111" stroke="#111" stroke-width="0.6">–</text>
<text x="1095.5" y="2208.8" text-anchor="middle" style="font-family:'DejaVu Sans','Liberation Sans',sans-serif;font-size:56px" fill="#111" stroke="#111" stroke-width="0.9">*</text>
<text x="1030.2" y="2273.8" text-anchor="middle" style="font-family:'DejaVu Sans','Liberation Sans',sans-serif;font-size:56px" fill="#111" stroke="#111" stroke-width="0.9">*</text>
<text x="1095.5" y="2273.8" text-anchor="middle" style="font-family:'DejaVu Sans','Liberation Sans',sans-serif;font-size:56px" fill="#111" stroke="#111" stroke-width="0.9">*</text>
<text x="1094.5" y="2326.6" text-anchor="middle" style="font-family:'Liberation Sans',Arial,sans-serif;font-size:44px" fill="#111" stroke="#111" stroke-width="0.6">–</text>
<text x="810.5" y="2401" style="font-family:'DejaVu Sans','Liberation Sans',sans-serif;font-size:61.2px;letter-spacing:-0.3px" fill="#111" stroke="#fff" stroke-width="1">Summer</text>
<rect x="1400.5" y="2077.0" width="67.2" height="67.6" fill="#DCFCDC"/>
<rect x="1467.3" y="2077.0" width="61.8" height="67.6" fill="#DCFCDC"/>
<rect x="1528.7" y="2077.0" width="65.7" height="67.6" fill="#DCFCDC"/>
<rect x="1594.0" y="2077.0" width="66.4" height="67.6" fill="#DCFCDC"/>
<rect x="1467.3" y="2147.5" width="61.8" height="69.4" fill="#DCFCDC"/>
<rect x="1528.7" y="2147.5" width="65.7" height="69.4" fill="#DCFCDC"/>
<rect x="1594.0" y="2147.5" width="66.4" height="69.4" fill="#DCFCDC"/>
<rect x="1528.7" y="2216.5" width="65.7" height="62.1" fill="#E6E6E6"/>
<rect x="1594.0" y="2216.5" width="66.4" height="62.1" fill="#DCFCDC"/>
<rect x="1594.0" y="2280.5" width="66.4" height="62.5" fill="#DCFCDC"/>
<g stroke="#B6B6B6" stroke-width="3.2" fill="none">
<path d="M1336.8 2013.6H1402.1" stroke-dasharray="10.3 11.47" stroke-dashoffset="5.15"/>
<path d="M1402.1 2013.6H1467.3" stroke-dasharray="10.3 11.43" stroke-dashoffset="5.15"/>
<path d="M1467.3 2013.6H1528.7" stroke-dasharray="10.3 10.17" stroke-dashoffset="5.15"/>
<path d="M1528.7 2013.6H1594.0" stroke-dasharray="10.3 11.47" stroke-dashoffset="5.15"/>
<path d="M1594.0 2013.6H1659.3" stroke-dasharray="10.3 11.47" stroke-dashoffset="5.15"/>
<path d="M1659.3 2013.6H1724.6" stroke-dasharray="10.3 11.47" stroke-dashoffset="5.15"/>
<path d="M1336.8 2078.4H1402.1" stroke-dasharray="10.3 11.47" stroke-dashoffset="5.15"/>
<path d="M1402.1 2078.4H1467.3" stroke-dasharray="10.3 11.43" stroke-dashoffset="5.15"/>
<path d="M1467.3 2078.4H1528.7" stroke-dasharray="10.3 10.17" stroke-dashoffset="5.15"/>
<path d="M1528.7 2078.4H1594.0" stroke-dasharray="10.3 11.47" stroke-dashoffset="5.15"/>
<path d="M1594.0 2078.4H1659.3" stroke-dasharray="10.3 11.47" stroke-dashoffset="5.15"/>
<path d="M1659.3 2078.4H1724.6" stroke-dasharray="10.3 11.47" stroke-dashoffset="5.15"/>
<path d="M1336.8 2147.5H1402.1" stroke-dasharray="10.3 11.47" stroke-dashoffset="5.15"/>
<path d="M1402.1 2147.5H1467.3" stroke-dasharray="10.3 11.43" stroke-dashoffset="5.15"/>
<path d="M1467.3 2147.5H1528.7" stroke-dasharray="10.3 10.17" stroke-dashoffset="5.15"/>
<path d="M1528.7 2147.5H1594.0" stroke-dasharray="10.3 11.47" stroke-dashoffset="5.15"/>
<path d="M1594.0 2147.5H1659.3" stroke-dasharray="10.3 11.47" stroke-dashoffset="5.15"/>
<path d="M1659.3 2147.5H1724.6" stroke-dasharray="10.3 11.47" stroke-dashoffset="5.15"/>
<path d="M1336.8 2215.5H1402.1" stroke-dasharray="10.3 11.47" stroke-dashoffset="5.15"/>
<path d="M1402.1 2215.5H1467.3" stroke-dasharray="10.3 11.43" stroke-dashoffset="5.15"/>
<path d="M1467.3 2215.5H1528.7" stroke-dasharray="10.3 10.17" stroke-dashoffset="5.15"/>
<path d="M1528.7 2215.5H1594.0" stroke-dasharray="10.3 11.47" stroke-dashoffset="5.15"/>
<path d="M1594.0 2215.5H1659.3" stroke-dasharray="10.3 11.47" stroke-dashoffset="5.15"/>
<path d="M1659.3 2215.5H1724.6" stroke-dasharray="10.3 11.47" stroke-dashoffset="5.15"/>
<path d="M1336.8 2280.6H1402.1" stroke-dasharray="10.3 11.47" stroke-dashoffset="5.15"/>
<path d="M1402.1 2280.6H1467.3" stroke-dasharray="10.3 11.43" stroke-dashoffset="5.15"/>
<path d="M1467.3 2280.6H1528.7" stroke-dasharray="10.3 10.17" stroke-dashoffset="5.15"/>
<path d="M1528.7 2280.6H1594.0" stroke-dasharray="10.3 11.47" stroke-dashoffset="5.15"/>
<path d="M1594.0 2280.6H1659.3" stroke-dasharray="10.3 11.47" stroke-dashoffset="5.15"/>
<path d="M1659.3 2280.6H1724.6" stroke-dasharray="10.3 11.47" stroke-dashoffset="5.15"/>
<path d="M1336.8 2345.6H1402.1" stroke-dasharray="10.3 11.47" stroke-dashoffset="5.15"/>
<path d="M1402.1 2345.6H1467.3" stroke-dasharray="10.3 11.43" stroke-dashoffset="5.15"/>
<path d="M1467.3 2345.6H1528.7" stroke-dasharray="10.3 10.17" stroke-dashoffset="5.15"/>
<path d="M1528.7 2345.6H1594.0" stroke-dasharray="10.3 11.47" stroke-dashoffset="5.15"/>
<path d="M1594.0 2345.6H1659.3" stroke-dasharray="10.3 11.47" stroke-dashoffset="5.15"/>
<path d="M1659.3 2345.6H1724.6" stroke-dasharray="10.3 11.47" stroke-dashoffset="5.15"/>
<path d="M1336.8 2407.2H1402.1" stroke-dasharray="10.3 11.47" stroke-dashoffset="5.15"/>
<path d="M1402.1 2407.2H1467.3" stroke-dasharray="10.3 11.43" stroke-dashoffset="5.15"/>
<path d="M1467.3 2407.2H1528.7" stroke-dasharray="10.3 10.17" stroke-dashoffset="5.15"/>
<path d="M1528.7 2407.2H1594.0" stroke-dasharray="10.3 11.47" stroke-dashoffset="5.15"/>
<path d="M1594.0 2407.2H1659.3" stroke-dasharray="10.3 11.47" stroke-dashoffset="5.15"/>
<path d="M1659.3 2407.2H1724.6" stroke-dasharray="10.3 11.47" stroke-dashoffset="5.15"/>
<path d="M1336.8 2013.6V2078.4" stroke-dasharray="10.3 11.30" stroke-dashoffset="5.15"/>
<path d="M1336.8 2078.4V2147.5" stroke-dasharray="10.3 12.73" stroke-dashoffset="5.15"/>
<path d="M1336.8 2147.5V2215.5" stroke-dasharray="10.3 12.37" stroke-dashoffset="5.15"/>
<path d="M1336.8 2215.5V2280.6" stroke-dasharray="10.3 11.40" stroke-dashoffset="5.15"/>
<path d="M1336.8 2280.6V2345.6" stroke-dasharray="10.3 11.37" stroke-dashoffset="5.15"/>
<path d="M1336.8 2345.6V2407.2" stroke-dasharray="10.3 10.23" stroke-dashoffset="5.15"/>
<path d="M1402.1 2013.6V2078.4" stroke-dasharray="10.3 11.30" stroke-dashoffset="5.15"/>
<path d="M1402.1 2078.4V2147.5" stroke-dasharray="10.3 12.73" stroke-dashoffset="5.15"/>
<path d="M1402.1 2147.5V2215.5" stroke-dasharray="10.3 12.37" stroke-dashoffset="5.15"/>
<path d="M1402.1 2215.5V2280.6" stroke-dasharray="10.3 11.40" stroke-dashoffset="5.15"/>
<path d="M1402.1 2280.6V2345.6" stroke-dasharray="10.3 11.37" stroke-dashoffset="5.15"/>
<path d="M1402.1 2345.6V2407.2" stroke-dasharray="10.3 10.23" stroke-dashoffset="5.15"/>
<path d="M1467.3 2013.6V2078.4" stroke-dasharray="10.3 11.30" stroke-dashoffset="5.15"/>
<path d="M1467.3 2078.4V2147.5" stroke-dasharray="10.3 12.73" stroke-dashoffset="5.15"/>
<path d="M1467.3 2147.5V2215.5" stroke-dasharray="10.3 12.37" stroke-dashoffset="5.15"/>
<path d="M1467.3 2215.5V2280.6" stroke-dasharray="10.3 11.40" stroke-dashoffset="5.15"/>
<path d="M1467.3 2280.6V2345.6" stroke-dasharray="10.3 11.37" stroke-dashoffset="5.15"/>
<path d="M1467.3 2345.6V2407.2" stroke-dasharray="10.3 10.23" stroke-dashoffset="5.15"/>
<path d="M1528.7 2013.6V2078.4" stroke-dasharray="10.3 11.30" stroke-dashoffset="5.15"/>
<path d="M1528.7 2078.4V2147.5" stroke-dasharray="10.3 12.73" stroke-dashoffset="5.15"/>
<path d="M1528.7 2147.5V2215.5" stroke-dasharray="10.3 12.37" stroke-dashoffset="5.15"/>
<path d="M1528.7 2215.5V2280.6" stroke-dasharray="10.3 11.40" stroke-dashoffset="5.15"/>
<path d="M1528.7 2280.6V2345.6" stroke-dasharray="10.3 11.37" stroke-dashoffset="5.15"/>
<path d="M1528.7 2345.6V2407.2" stroke-dasharray="10.3 10.23" stroke-dashoffset="5.15"/>
<path d="M1594.0 2013.6V2078.4" stroke-dasharray="10.3 11.30" stroke-dashoffset="5.15"/>
<path d="M1594.0 2078.4V2147.5" stroke-dasharray="10.3 12.73" stroke-dashoffset="5.15"/>
<path d="M1594.0 2147.5V2215.5" stroke-dasharray="10.3 12.37" stroke-dashoffset="5.15"/>
<path d="M1594.0 2215.5V2280.6" stroke-dasharray="10.3 11.40" stroke-dashoffset="5.15"/>
<path d="M1594.0 2280.6V2345.6" stroke-dasharray="10.3 11.37" stroke-dashoffset="5.15"/>
<path d="M1594.0 2345.6V2407.2" stroke-dasharray="10.3 10.23" stroke-dashoffset="5.15"/>
<path d="M1659.3 2013.6V2078.4" stroke-dasharray="10.3 11.30" stroke-dashoffset="5.15"/>
<path d="M1659.3 2078.4V2147.5" stroke-dasharray="10.3 12.73" stroke-dashoffset="5.15"/>
<path d="M1659.3 2147.5V2215.5" stroke-dasharray="10.3 12.37" stroke-dashoffset="5.15"/>
<path d="M1659.3 2215.5V2280.6" stroke-dasharray="10.3 11.40" stroke-dashoffset="5.15"/>
<path d="M1659.3 2280.6V2345.6" stroke-dasharray="10.3 11.37" stroke-dashoffset="5.15"/>
<path d="M1659.3 2345.6V2407.2" stroke-dasharray="10.3 10.23" stroke-dashoffset="5.15"/>
<path d="M1724.6 2013.6V2078.4" stroke-dasharray="10.3 11.30" stroke-dashoffset="5.15"/>
<path d="M1724.6 2078.4V2147.5" stroke-dasharray="10.3 12.73" stroke-dashoffset="5.15"/>
<path d="M1724.6 2147.5V2215.5" stroke-dasharray="10.3 12.37" stroke-dashoffset="5.15"/>
<path d="M1724.6 2215.5V2280.6" stroke-dasharray="10.3 11.40" stroke-dashoffset="5.15"/>
<path d="M1724.6 2280.6V2345.6" stroke-dasharray="10.3 11.37" stroke-dashoffset="5.15"/>
<path d="M1724.6 2345.6V2407.2" stroke-dasharray="10.3 10.23" stroke-dashoffset="5.15"/>
</g>
<circle cx="1370.4" cy="2046.1" r="20.5" fill="#FF40AA"/>
<circle cx="1692.7" cy="2110.9" r="20.5" fill="#FF40AA"/>
<circle cx="1435.7" cy="2046.1" r="20.5" fill="#FFC3C3"/>
<circle cx="1692.7" cy="2183.0" r="20.5" fill="#FFC3C3"/>
<circle cx="1499.0" cy="2046.1" r="20.5" fill="#38FF38"/>
<circle cx="1692.7" cy="2248.0" r="20.5" fill="#38FF38"/>
<circle cx="1562.3" cy="2046.1" r="20.5" fill="#B2FFB2"/>
<circle cx="1692.7" cy="2313.3" r="20.5" fill="#B2FFB2"/>
<circle cx="1627.7" cy="2046.1" r="20.5" fill="#30FFFF"/>
<circle cx="1692.7" cy="2378.1" r="20.5" fill="#30FFFF"/>
<text x="1434.7" y="2136.7" text-anchor="middle" style="font-family:'DejaVu Sans','Liberation Sans',sans-serif;font-size:56px" fill="#111" stroke="#111" stroke-width="0.9">*</text>
<text x="1498.0" y="2136.7" text-anchor="middle" style="font-family:'DejaVu Sans','Liberation Sans',sans-serif;font-size:56px" fill="#111" stroke="#111" stroke-width="0.9">*</text>
<text x="1561.3" y="2136.7" text-anchor="middle" style="font-family:'DejaVu Sans','Liberation Sans',sans-serif;font-size:56px" fill="#111" stroke="#111" stroke-width="0.9">*</text>
<text x="1626.7" y="2136.7" text-anchor="middle" style="font-family:'DejaVu Sans','Liberation Sans',sans-serif;font-size:56px" fill="#111" stroke="#111" stroke-width="0.9">*</text>
<text x="1498.0" y="2208.8" text-anchor="middle" style="font-family:'DejaVu Sans','Liberation Sans',sans-serif;font-size:56px" fill="#111" stroke="#111" stroke-width="0.9">*</text>
<text x="1561.3" y="2208.8" text-anchor="middle" style="font-family:'DejaVu Sans','Liberation Sans',sans-serif;font-size:56px" fill="#111" stroke="#111" stroke-width="0.9">*</text>
<text x="1626.7" y="2208.8" text-anchor="middle" style="font-family:'DejaVu Sans','Liberation Sans',sans-serif;font-size:56px" fill="#111" stroke="#111" stroke-width="0.9">*</text>
<text x="1560.3" y="2261.3" text-anchor="middle" style="font-family:'Liberation Sans',Arial,sans-serif;font-size:44px" fill="#111" stroke="#111" stroke-width="0.6">–</text>
<text x="1626.7" y="2273.8" text-anchor="middle" style="font-family:'DejaVu Sans','Liberation Sans',sans-serif;font-size:56px" fill="#111" stroke="#111" stroke-width="0.9">*</text>
<text x="1626.7" y="2339.1" text-anchor="middle" style="font-family:'DejaVu Sans','Liberation Sans',sans-serif;font-size:56px" fill="#111" stroke="#111" stroke-width="0.9">*</text>
<text x="1341" y="2401" style="font-family:'DejaVu Sans','Liberation Sans',sans-serif;font-size:61.2px;letter-spacing:2.0px" fill="#111" stroke="#fff" stroke-width="1">Autumn</text>
<rect x="1931.6" y="2077.0" width="66.8" height="67.6" fill="#E6E6E6"/>
<rect x="1998.0" y="2077.0" width="62.3" height="67.6" fill="#E6E6E6"/>
<rect x="2059.9" y="2077.0" width="65.2" height="67.6" fill="#DCFCDC"/>
<rect x="2124.7" y="2077.0" width="66.9" height="67.6" fill="#DCFCDC"/>
<rect x="1998.0" y="2147.5" width="62.3" height="69.4" fill="#DCFCDC"/>
<rect x="2059.9" y="2147.5" width="65.2" height="69.4" fill="#E6E6E6"/>
<rect x="2124.7" y="2147.5" width="66.9" height="69.4" fill="#DCFCDC"/>
<rect x="2059.9" y="2216.5" width="65.2" height="62.1" fill="#DCFCDC"/>
<rect x="2124.7" y="2216.5" width="66.9" height="62.1" fill="#DCFCDC"/>
<rect x="2124.7" y="2280.5" width="66.9" height="62.5" fill="#DCFCDC"/>
<g stroke="#B6B6B6" stroke-width="3.2" fill="none">
<path d="M1867.9 2013.6H1932.8" stroke-dasharray="10.3 11.33" stroke-dashoffset="5.15"/>
<path d="M1932.8 2013.6H1998.0" stroke-dasharray="10.3 11.43" stroke-dashoffset="5.15"/>
<path d="M1998.0 2013.6H2059.9" stroke-dasharray="10.3 10.33" stroke-dashoffset="5.15"/>
<path d="M2059.9 2013.6H2124.7" stroke-dasharray="10.3 11.30" stroke-dashoffset="5.15"/>
<path d="M2124.7 2013.6H2190.0" stroke-dasharray="10.3 11.47" stroke-dashoffset="5.15"/>
<path d="M2190.0 2013.6H2255.3" stroke-dasharray="10.3 11.47" stroke-dashoffset="5.15"/>
<path d="M1867.9 2078.4H1932.8" stroke-dasharray="10.3 11.33" stroke-dashoffset="5.15"/>
<path d="M1932.8 2078.4H1998.0" stroke-dasharray="10.3 11.43" stroke-dashoffset="5.15"/>
<path d="M1998.0 2078.4H2059.9" stroke-dasharray="10.3 10.33" stroke-dashoffset="5.15"/>
<path d="M2059.9 2078.4H2124.7" stroke-dasharray="10.3 11.30" stroke-dashoffset="5.15"/>
<path d="M2124.7 2078.4H2190.0" stroke-dasharray="10.3 11.47" stroke-dashoffset="5.15"/>
<path d="M2190.0 2078.4H2255.3" stroke-dasharray="10.3 11.47" stroke-dashoffset="5.15"/>
<path d="M1867.9 2147.5H1932.8" stroke-dasharray="10.3 11.33" stroke-dashoffset="5.15"/>
<path d="M1932.8 2147.5H1998.0" stroke-dasharray="10.3 11.43" stroke-dashoffset="5.15"/>
<path d="M1998.0 2147.5H2059.9" stroke-dasharray="10.3 10.33" stroke-dashoffset="5.15"/>
<path d="M2059.9 2147.5H2124.7" stroke-dasharray="10.3 11.30" stroke-dashoffset="5.15"/>
<path d="M2124.7 2147.5H2190.0" stroke-dasharray="10.3 11.47" stroke-dashoffset="5.15"/>
<path d="M2190.0 2147.5H2255.3" stroke-dasharray="10.3 11.47" stroke-dashoffset="5.15"/>
<path d="M1867.9 2215.5H1932.8" stroke-dasharray="10.3 11.33" stroke-dashoffset="5.15"/>
<path d="M1932.8 2215.5H1998.0" stroke-dasharray="10.3 11.43" stroke-dashoffset="5.15"/>
<path d="M1998.0 2215.5H2059.9" stroke-dasharray="10.3 10.33" stroke-dashoffset="5.15"/>
<path d="M2059.9 2215.5H2124.7" stroke-dasharray="10.3 11.30" stroke-dashoffset="5.15"/>
<path d="M2124.7 2215.5H2190.0" stroke-dasharray="10.3 11.47" stroke-dashoffset="5.15"/>
<path d="M2190.0 2215.5H2255.3" stroke-dasharray="10.3 11.47" stroke-dashoffset="5.15"/>
<path d="M1867.9 2280.6H1932.8" stroke-dasharray="10.3 11.33" stroke-dashoffset="5.15"/>
<path d="M1932.8 2280.6H1998.0" stroke-dasharray="10.3 11.43" stroke-dashoffset="5.15"/>
<path d="M1998.0 2280.6H2059.9" stroke-dasharray="10.3 10.33" stroke-dashoffset="5.15"/>
<path d="M2059.9 2280.6H2124.7" stroke-dasharray="10.3 11.30" stroke-dashoffset="5.15"/>
<path d="M2124.7 2280.6H2190.0" stroke-dasharray="10.3 11.47" stroke-dashoffset="5.15"/>
<path d="M2190.0 2280.6H2255.3" stroke-dasharray="10.3 11.47" stroke-dashoffset="5.15"/>
<path d="M1867.9 2345.6H1932.8" stroke-dasharray="10.3 11.33" stroke-dashoffset="5.15"/>
<path d="M1932.8 2345.6H1998.0" stroke-dasharray="10.3 11.43" stroke-dashoffset="5.15"/>
<path d="M1998.0 2345.6H2059.9" stroke-dasharray="10.3 10.33" stroke-dashoffset="5.15"/>
<path d="M2059.9 2345.6H2124.7" stroke-dasharray="10.3 11.30" stroke-dashoffset="5.15"/>
<path d="M2124.7 2345.6H2190.0" stroke-dasharray="10.3 11.47" stroke-dashoffset="5.15"/>
<path d="M2190.0 2345.6H2255.3" stroke-dasharray="10.3 11.47" stroke-dashoffset="5.15"/>
<path d="M1867.9 2407.2H1932.8" stroke-dasharray="10.3 11.33" stroke-dashoffset="5.15"/>
<path d="M1932.8 2407.2H1998.0" stroke-dasharray="10.3 11.43" stroke-dashoffset="5.15"/>
<path d="M1998.0 2407.2H2059.9" stroke-dasharray="10.3 10.33" stroke-dashoffset="5.15"/>
<path d="M2059.9 2407.2H2124.7" stroke-dasharray="10.3 11.30" stroke-dashoffset="5.15"/>
<path d="M2124.7 2407.2H2190.0" stroke-dasharray="10.3 11.47" stroke-dashoffset="5.15"/>
<path d="M2190.0 2407.2H2255.3" stroke-dasharray="10.3 11.47" stroke-dashoffset="5.15"/>
<path d="M1867.9 2013.6V2078.4" stroke-dasharray="10.3 11.30" stroke-dashoffset="5.15"/>
<path d="M1867.9 2078.4V2147.5" stroke-dasharray="10.3 12.73" stroke-dashoffset="5.15"/>
<path d="M1867.9 2147.5V2215.5" stroke-dasharray="10.3 12.37" stroke-dashoffset="5.15"/>
<path d="M1867.9 2215.5V2280.6" stroke-dasharray="10.3 11.40" stroke-dashoffset="5.15"/>
<path d="M1867.9 2280.6V2345.6" stroke-dasharray="10.3 11.37" stroke-dashoffset="5.15"/>
<path d="M1867.9 2345.6V2407.2" stroke-dasharray="10.3 10.23" stroke-dashoffset="5.15"/>
<path d="M1932.8 2013.6V2078.4" stroke-dasharray="10.3 11.30" stroke-dashoffset="5.15"/>
<path d="M1932.8 2078.4V2147.5" stroke-dasharray="10.3 12.73" stroke-dashoffset="5.15"/>
<path d="M1932.8 2147.5V2215.5" stroke-dasharray="10.3 12.37" stroke-dashoffset="5.15"/>
<path d="M1932.8 2215.5V2280.6" stroke-dasharray="10.3 11.40" stroke-dashoffset="5.15"/>
<path d="M1932.8 2280.6V2345.6" stroke-dasharray="10.3 11.37" stroke-dashoffset="5.15"/>
<path d="M1932.8 2345.6V2407.2" stroke-dasharray="10.3 10.23" stroke-dashoffset="5.15"/>
<path d="M1998.0 2013.6V2078.4" stroke-dasharray="10.3 11.30" stroke-dashoffset="5.15"/>
<path d="M1998.0 2078.4V2147.5" stroke-dasharray="10.3 12.73" stroke-dashoffset="5.15"/>
<path d="M1998.0 2147.5V2215.5" stroke-dasharray="10.3 12.37" stroke-dashoffset="5.15"/>
<path d="M1998.0 2215.5V2280.6" stroke-dasharray="10.3 11.40" stroke-dashoffset="5.15"/>
<path d="M1998.0 2280.6V2345.6" stroke-dasharray="10.3 11.37" stroke-dashoffset="5.15"/>
<path d="M1998.0 2345.6V2407.2" stroke-dasharray="10.3 10.23" stroke-dashoffset="5.15"/>
<path d="M2059.9 2013.6V2078.4" stroke-dasharray="10.3 11.30" stroke-dashoffset="5.15"/>
<path d="M2059.9 2078.4V2147.5" stroke-dasharray="10.3 12.73" stroke-dashoffset="5.15"/>
<path d="M2059.9 2147.5V2215.5" stroke-dasharray="10.3 12.37" stroke-dashoffset="5.15"/>
<path d="M2059.9 2215.5V2280.6" stroke-dasharray="10.3 11.40" stroke-dashoffset="5.15"/>
<path d="M2059.9 2280.6V2345.6" stroke-dasharray="10.3 11.37" stroke-dashoffset="5.15"/>
<path d="M2059.9 2345.6V2407.2" stroke-dasharray="10.3 10.23" stroke-dashoffset="5.15"/>
<path d="M2124.7 2013.6V2078.4" stroke-dasharray="10.3 11.30" stroke-dashoffset="5.15"/>
<path d="M2124.7 2078.4V2147.5" stroke-dasharray="10.3 12.73" stroke-dashoffset="5.15"/>
<path d="M2124.7 2147.5V2215.5" stroke-dasharray="10.3 12.37" stroke-dashoffset="5.15"/>
<path d="M2124.7 2215.5V2280.6" stroke-dasharray="10.3 11.40" stroke-dashoffset="5.15"/>
<path d="M2124.7 2280.6V2345.6" stroke-dasharray="10.3 11.37" stroke-dashoffset="5.15"/>
<path d="M2124.7 2345.6V2407.2" stroke-dasharray="10.3 10.23" stroke-dashoffset="5.15"/>
<path d="M2190.0 2013.6V2078.4" stroke-dasharray="10.3 11.30" stroke-dashoffset="5.15"/>
<path d="M2190.0 2078.4V2147.5" stroke-dasharray="10.3 12.73" stroke-dashoffset="5.15"/>
<path d="M2190.0 2147.5V2215.5" stroke-dasharray="10.3 12.37" stroke-dashoffset="5.15"/>
<path d="M2190.0 2215.5V2280.6" stroke-dasharray="10.3 11.40" stroke-dashoffset="5.15"/>
<path d="M2190.0 2280.6V2345.6" stroke-dasharray="10.3 11.37" stroke-dashoffset="5.15"/>
<path d="M2190.0 2345.6V2407.2" stroke-dasharray="10.3 10.23" stroke-dashoffset="5.15"/>
<path d="M2255.3 2013.6V2078.4" stroke-dasharray="10.3 11.30" stroke-dashoffset="5.15"/>
<path d="M2255.3 2078.4V2147.5" stroke-dasharray="10.3 12.73" stroke-dashoffset="5.15"/>
<path d="M2255.3 2147.5V2215.5" stroke-dasharray="10.3 12.37" stroke-dashoffset="5.15"/>
<path d="M2255.3 2215.5V2280.6" stroke-dasharray="10.3 11.40" stroke-dashoffset="5.15"/>
<path d="M2255.3 2280.6V2345.6" stroke-dasharray="10.3 11.37" stroke-dashoffset="5.15"/>
<path d="M2255.3 2345.6V2407.2" stroke-dasharray="10.3 10.23" stroke-dashoffset="5.15"/>
</g>
<circle cx="1901.3" cy="2046.1" r="20.5" fill="#FF40AA"/>
<circle cx="2223.5" cy="2110.9" r="20.5" fill="#FF40AA"/>
<circle cx="1966.4" cy="2046.1" r="20.5" fill="#FFC3C3"/>
<circle cx="2223.5" cy="2183.0" r="20.5" fill="#FFC3C3"/>
<circle cx="2030.0" cy="2046.1" r="20.5" fill="#38FF38"/>
<circle cx="2223.5" cy="2248.0" r="20.5" fill="#38FF38"/>
<circle cx="2093.3" cy="2046.1" r="20.5" fill="#B2FFB2"/>
<circle cx="2223.5" cy="2313.3" r="20.5" fill="#B2FFB2"/>
<circle cx="2158.3" cy="2046.1" r="20.5" fill="#30FFFF"/>
<circle cx="2223.5" cy="2378.1" r="20.5" fill="#30FFFF"/>
<text x="1964.4" y="2124.2" text-anchor="middle" style="font-family:'Liberation Sans',Arial,sans-serif;font-size:44px" fill="#111" stroke="#111" stroke-width="0.6">–</text>
<text x="2028.0" y="2124.2" text-anchor="middle" style="font-family:'Liberation Sans',Arial,sans-serif;font-size:44px" fill="#111" stroke="#111" stroke-width="0.6">–</text>
<text x="2092.3" y="2136.7" text-anchor="middle" style="font-family:'DejaVu Sans','Liberation Sans',sans-serif;font-size:56px" fill="#111" stroke="#111" stroke-width="0.9">*</text>
<text x="2157.3" y="2136.7" text-anchor="middle" style="font-family:'DejaVu Sans','Liberation Sans',sans-serif;font-size:56px" fill="#111" stroke="#111" stroke-width="0.9">*</text>
<text x="2029.0" y="2208.8" text-anchor="middle" style="font-family:'DejaVu Sans','Liberation Sans',sans-serif;font-size:56px" fill="#111" stroke="#111" stroke-width="0.9">*</text>
<text x="2091.3" y="2196.3" text-anchor="middle" style="font-family:'Liberation Sans',Arial,sans-serif;font-size:44px" fill="#111" stroke="#111" stroke-width="0.6">–</text>
<text x="2157.3" y="2208.8" text-anchor="middle" style="font-family:'DejaVu Sans','Liberation Sans',sans-serif;font-size:56px" fill="#111" stroke="#111" stroke-width="0.9">*</text>
<text x="2092.3" y="2273.8" text-anchor="middle" style="font-family:'DejaVu Sans','Liberation Sans',sans-serif;font-size:56px" fill="#111" stroke="#111" stroke-width="0.9">*</text>
<text x="2157.3" y="2273.8" text-anchor="middle" style="font-family:'DejaVu Sans','Liberation Sans',sans-serif;font-size:56px" fill="#111" stroke="#111" stroke-width="0.9">*</text>
<text x="2157.3" y="2339.1" text-anchor="middle" style="font-family:'DejaVu Sans','Liberation Sans',sans-serif;font-size:56px" fill="#111" stroke="#111" stroke-width="0.9">*</text>
<text x="1873.5" y="2401" style="font-family:'DejaVu Sans','Liberation Sans',sans-serif;font-size:61.2px;letter-spacing:2.2px" fill="#111" stroke="#fff" stroke-width="1">Winter</text>
</svg>
</body></html>
